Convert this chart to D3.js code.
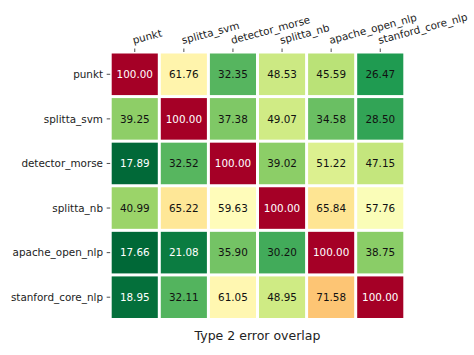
<!DOCTYPE html>
<html><head><meta charset="utf-8">
<script src="https://cdn.jsdelivr.net/npm/d3@7"></script>
<style>body{margin:0;background:#fff}svg{display:block}text{font-family:"DejaVu Sans",sans-serif}</style>
</head><body>
<svg id="c" width="474" height="355"></svg>
<script>
const rowLabels = ["punkt","splitta_svm","detector_morse","splitta_nb","apache_open_nlp","stanford_core_nlp"];
const colLabels = ["punkt","splitta_svm","detector_morse","splitta_nb","apache_open_nlp","stanford_core_nlp"];
const row0 = [100.00, 61.76, 32.35, 48.53, 45.59, 26.47];
const row1 = [39.25, 100.00, 37.38, 49.07, 34.58, 28.50];
const row2 = [17.89, 32.52, 100.00, 39.02, 51.22, 47.15];
const row3 = [40.99, 65.22, 59.63, 100.00, 65.84, 57.76];
const row4 = [17.66, 21.08, 35.90, 30.20, 100.00, 38.75];
const row5 = [18.95, 32.11, 61.05, 48.95, 71.58, 100.00];
const rows = [row0,row1,row2,row3,row4,row5];
const title = "Type 2 error overlap";

const svg = d3.select("#c");
const x = d3.scaleBand().domain(d3.range(6)).range([110.2, 404.8]);
const y = d3.scaleBand().domain(d3.range(6)).range([52, 319.5]);
const all = rows.flat();
const vmin = d3.min(all), vmax = d3.max(all);
const stops = ["#006837","#1a9850","#66bd63","#a6d96a","#d9ef8b","#ffffbf","#fee08b","#fdae61","#f46d43","#d73027","#a50026"];
const color = d3.scaleLinear().domain(d3.range(11).map(i => vmin + (vmax-vmin)*i/10)).range(stops).clamp(true);
const inset = 1.5;
const fs = 10.4;

const cells = [];
rows.forEach((r,i)=>r.forEach((v,j)=>cells.push({i,j,v})));
const g = svg.append("g");
g.selectAll("rect").data(cells).join("rect")
  .attr("x", d=>x(d.j)+inset).attr("y", d=>y(d.i)+inset)
  .attr("width", x.bandwidth()-2*inset).attr("height", y.bandwidth()-2*inset)
  .attr("fill", d=>color(d.v));
g.selectAll("text.v").data(cells).join("text").attr("class","v")
  .attr("x", d=>x(d.j)+x.bandwidth()/2).attr("y", d=>y(d.i)+y.bandwidth()/2)
  .attr("dy","0.35em").attr("text-anchor","middle").attr("font-size",fs)
  .attr("fill", d=>{const t=(d.v-vmin)/(vmax-vmin); return (t<0.08||t>0.9)?"#fff":"#111";})
  .text(d=>d.v.toFixed(2));

// left axis
const ya = svg.append("g");
ya.selectAll("line").data(d3.range(6)).join("line")
  .attr("x1",110.2-3.5).attr("x2",110.2)
  .attr("y1",d=>y(d)+y.bandwidth()/2).attr("y2",d=>y(d)+y.bandwidth()/2)
  .attr("stroke","#222").attr("stroke-width",0.8);
ya.selectAll("text").data(d3.range(6)).join("text")
  .attr("x",103).attr("y",d=>y(d)+y.bandwidth()/2).attr("dy","0.35em")
  .attr("text-anchor","end").attr("font-size",fs).attr("fill","#222")
  .text(d=>rowLabels[d]);

// top axis
const xa = svg.append("g");
xa.selectAll("line").data(d3.range(6)).join("line")
  .attr("x1",d=>x(d)+x.bandwidth()/2).attr("x2",d=>x(d)+x.bandwidth()/2)
  .attr("y1",52-3.5).attr("y2",52)
  .attr("stroke","#222").attr("stroke-width",0.8);
xa.selectAll("text").data(d3.range(6)).join("text")
  .attr("transform",d=>`translate(${x(d)+x.bandwidth()/2-1},44) rotate(-15)`)
  .attr("text-anchor","start").attr("font-size",fs).attr("fill","#222")
  .text(d=>colLabels[d]);

svg.append("text").attr("x",257.5).attr("y",340).attr("text-anchor","middle")
  .attr("font-size",12.5).attr("fill","#222").text(title);
</script>
</body></html>
